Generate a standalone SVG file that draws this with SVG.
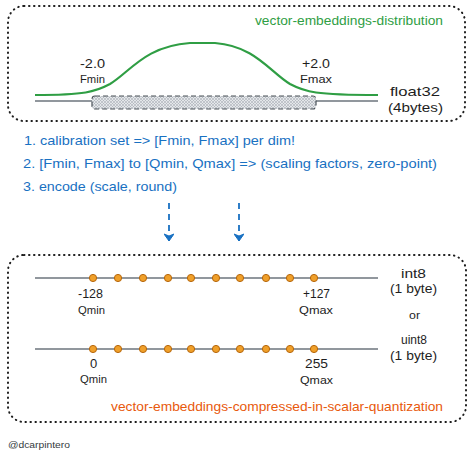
<svg xmlns="http://www.w3.org/2000/svg" width="474" height="459" viewBox="0 0 474 459">
<style>
text{font-family:"Liberation Sans","DejaVu Sans",sans-serif;fill:#1e1e1e}
.box{fill:none;stroke:#1e1e1e;stroke-width:2;stroke-dasharray:0.5 4.5;stroke-linecap:round}
.lbl{font-size:13px}
.sm{font-size:11px}
.blue{fill:#1971c2;font-size:13px}
.axis{stroke:#6c757d;stroke-width:1.6;fill:none}
.dot{fill:#f0a02a;stroke:#b5660c;stroke-width:1}
.arr{stroke:#1971c2;stroke-width:1.8;fill:none;stroke-dasharray:6 5}
</style>
<defs>
<pattern id="hatch" width="3" height="3" patternUnits="userSpaceOnUse">
<rect width="3" height="3" fill="#e4e7ea"/>
<path d="M0,0 L3,3 M3,0 L0,3" stroke="#a9afb5" stroke-width="0.6"/>
</pattern>
<marker id="ah" viewBox="0 0 10 10" refX="9" refY="5" markerWidth="10" markerHeight="10" markerUnits="userSpaceOnUse" orient="auto">
<path d="M2,0 L9,5 L2,10 L4,5 Z" fill="#1971c2" stroke="#1971c2" stroke-width="1" stroke-linejoin="round"/>
</marker>
</defs>
<rect width="474" height="459" fill="#ffffff"/>

<g id="distribution">
<rect class="box" x="8" y="6" width="457" height="115" rx="16"/>
<text x="255" y="25" style="fill:#2f9e44;font-size:13px" textLength="188" lengthAdjust="spacingAndGlyphs">vector-embeddings-distribution</text>
<line x1="35" y1="101" x2="378" y2="101" stroke="#6c757d" stroke-width="1.4"/>
<rect x="92" y="96" width="224" height="13" rx="3" fill="url(#hatch)" stroke="#495057" stroke-width="1.2" stroke-dasharray="5 3"/>
<path d="M35,95 C85,95 95,92 110,84 C130,72 145,46 190,43 L215,43 C255,46 270,72 290,84 C305,92 315,95 378,95" fill="none" stroke="#2f9e44" stroke-width="2.2"/>
<text class="lbl" x="80" y="68" textLength="25" lengthAdjust="spacingAndGlyphs">-2.0</text>
<text class="sm" x="80" y="83" textLength="25" lengthAdjust="spacingAndGlyphs">Fmin</text>
<text class="lbl" x="302" y="68" textLength="28" lengthAdjust="spacingAndGlyphs">+2.0</text>
<text class="sm" x="300" y="83" textLength="32" lengthAdjust="spacingAndGlyphs">Fmax</text>
<text class="lbl" x="390" y="96" textLength="50" lengthAdjust="spacingAndGlyphs">float32</text>
<text class="lbl" x="388" y="112" textLength="55" lengthAdjust="spacingAndGlyphs">(4bytes)</text>
</g>

<g id="steps">
<text class="blue" x="24" y="145" textLength="271" lengthAdjust="spacingAndGlyphs">1. calibration set =&gt; [Fmin, Fmax] per dim!</text>
<text class="blue" x="23" y="168" textLength="414" lengthAdjust="spacingAndGlyphs">2. [Fmin, Fmax] to [Qmin, Qmax] =&gt; (scaling factors, zero-point)</text>
<text class="blue" x="23" y="191" textLength="154" lengthAdjust="spacingAndGlyphs">3. encode (scale, round)</text>
</g>

<g id="connectors">
<line class="arr" x1="169" y1="203" x2="169" y2="241" marker-end="url(#ah)"/>
<line class="arr" x1="239" y1="203" x2="239" y2="241" marker-end="url(#ah)"/>
</g>

<g id="quantization">
<rect class="box" x="8" y="255" width="458" height="167" rx="16"/>
<line class="axis" x1="35" y1="278" x2="378" y2="278"/>
<g class="dot">
<circle cx="93" cy="278" r="3.6"/><circle cx="118" cy="278" r="3.6"/><circle cx="143" cy="278" r="3.6"/><circle cx="168" cy="278" r="3.6"/><circle cx="191" cy="278" r="3.6"/><circle cx="216" cy="278" r="3.6"/><circle cx="240" cy="278" r="3.6"/><circle cx="266" cy="278" r="3.6"/><circle cx="290" cy="278" r="3.6"/><circle cx="314" cy="278" r="3.6"/>
</g>
<text class="lbl" x="78" y="298" textLength="25" lengthAdjust="spacingAndGlyphs">-128</text>
<text class="sm" x="78" y="314" textLength="27" lengthAdjust="spacingAndGlyphs">Qmin</text>
<text class="lbl" x="303" y="298" textLength="27" lengthAdjust="spacingAndGlyphs">+127</text>
<text class="sm" x="299" y="314" textLength="34" lengthAdjust="spacingAndGlyphs">Qmax</text>
<text class="lbl" x="401" y="278" textLength="25" lengthAdjust="spacingAndGlyphs">int8</text>
<text class="lbl" x="390" y="293" textLength="47" lengthAdjust="spacingAndGlyphs">(1 byte)</text>
<text class="sm" x="409" y="319" textLength="11" lengthAdjust="spacingAndGlyphs">or</text>
<text class="lbl" x="401" y="344" textLength="26" lengthAdjust="spacingAndGlyphs">uint8</text>
<text class="lbl" x="390" y="360" textLength="47" lengthAdjust="spacingAndGlyphs">(1 byte)</text>

<line class="axis" x1="35" y1="349" x2="378" y2="349"/>
<g class="dot">
<circle cx="93" cy="349" r="3.6"/><circle cx="118" cy="349" r="3.6"/><circle cx="143" cy="349" r="3.6"/><circle cx="168" cy="349" r="3.6"/><circle cx="191" cy="349" r="3.6"/><circle cx="216" cy="349" r="3.6"/><circle cx="240" cy="349" r="3.6"/><circle cx="266" cy="349" r="3.6"/><circle cx="290" cy="349" r="3.6"/><circle cx="314" cy="349" r="3.6"/>
</g>
<text class="lbl" x="90" y="368">0</text>
<text class="sm" x="80" y="383" textLength="27" lengthAdjust="spacingAndGlyphs">Qmin</text>
<text class="lbl" x="305" y="368" textLength="23" lengthAdjust="spacingAndGlyphs">255</text>
<text class="sm" x="300" y="384" textLength="33" lengthAdjust="spacingAndGlyphs">Qmax</text>
<text x="111" y="411" style="fill:#e8590c;font-size:13px" textLength="332" lengthAdjust="spacingAndGlyphs">vector-embeddings-compressed-in-scalar-quantization</text>
</g>

<text x="8" y="448" style="font-size:9px;fill:#343a40" textLength="62" lengthAdjust="spacingAndGlyphs">@dcarpintero</text>
</svg>
